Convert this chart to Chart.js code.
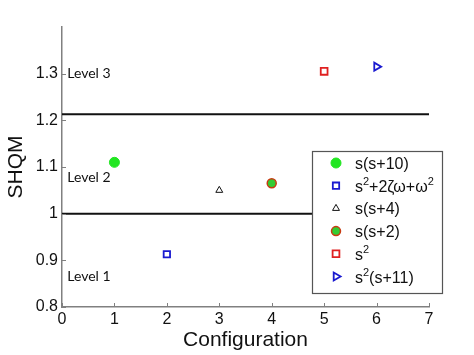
<!DOCTYPE html>
<html>
<head>
<meta charset="utf-8">
<script src="https://cdn.jsdelivr.net/npm/chart.js@4/dist/chart.umd.min.js"></script>
<style>
html,body{margin:0;padding:0;background:#fff;}
#wrap{width:474px;height:355px;position:relative;}
</style>
</head>
<body>
<div id="wrap"><canvas id="c" width="474" height="355"></canvas></div>
<script>
// ---- data ----
const configurations = [1, 2, 3, 4, 5, 6];
const shqm = [1.11, 0.913, 1.05, 1.065, 1.305, 1.315];
const seriesNames = ['s(s+10)', 's^2+2ζω+ω^2', 's(s+4)', 's(s+2)', 's^2', 's^2(s+11)'];
const levelThresholds = [1.0, 1.213];
const levelNames = ['Level 1', 'Level 2', 'Level 3'];
const levelLabelY = [0.866, 1.078, 1.3];
const levelLabelX = 0.1;
const xTicks = [0, 1, 2, 3, 4, 5, 6, 7];
const yTicks = [0.8, 0.9, 1.0, 1.1, 1.2, 1.3];

// ---- styles ----
const markerStyles = [
  {shape: 'circle', r: 5, rot: 0, fill: '#22e622', stroke: '#22e622', lw: 1},
  {shape: 'rect', r: 4.5, rot: 0, fill: 'rgba(0,0,0,0)', stroke: '#1a1ad0', lw: 1.8},
  {shape: 'triangle', r: 4, rot: 0, fill: 'rgba(0,0,0,0)', stroke: '#111', lw: 1},
  {shape: 'circle', r: 4.5, rot: 0, fill: '#33cc33', stroke: '#c83a10', lw: 1.5},
  {shape: 'rect', r: 4.8, rot: 0, fill: 'rgba(0,0,0,0)', stroke: '#e02020', lw: 1.8},
  {shape: 'triangle', r: 4.6, rot: 90, fill: 'rgba(0,0,0,0)', stroke: '#1a1ad0', lw: 1.8}
];

const datasets = [];
levelThresholds.forEach(v => {
  datasets.push({
    type: 'line',
    data: [{x: xTicks[0], y: v}, {x: xTicks[xTicks.length - 1], y: v}],
    borderColor: '#111', borderWidth: 2, pointRadius: 0, showLine: true, fill: false, order: 2
  });
});
configurations.forEach((c, i) => {
  const s = markerStyles[i];
  datasets.push({
    type: 'scatter',
    label: seriesNames[i],
    data: [{x: c, y: shqm[i]}],
    pointStyle: s.shape, pointRadius: s.r, pointRotation: s.rot,
    backgroundColor: s.fill, borderColor: s.stroke, pointBorderWidth: s.lw, borderWidth: s.lw,
    order: 1
  });
});

function drawMarker(ctx, s, x, y) {
  ctx.save();
  ctx.lineWidth = s.lw; ctx.strokeStyle = s.stroke; ctx.fillStyle = s.fill;
  ctx.beginPath();
  const r = s.r;
  if (s.shape === 'circle') {
    ctx.arc(x, y, r, 0, Math.PI * 2);
  } else if (s.shape === 'rect') {
    const h = r * Math.SQRT1_2;
    ctx.rect(x - h, y - h, 2 * h, 2 * h);
  } else if (s.shape === 'triangle') {
    let rad = s.rot * Math.PI / 180;
    for (let k = 0; k < 3; k++) {
      const px = x + Math.sin(rad) * r, py = y - Math.cos(rad) * r;
      if (k === 0) ctx.moveTo(px, py); else ctx.lineTo(px, py);
      rad += 2 * Math.PI / 3;
    }
    ctx.closePath();
  }
  ctx.fill(); ctx.stroke();
  ctx.restore();
}

function drawRich(ctx, text, x, y) {
  const parts = text.split(/\^(\d+)/);
  let cx = x;
  parts.forEach((p, i) => {
    if (!p) return;
    if (i % 2 === 1) {
      ctx.font = '11px "Liberation Sans", Arial, sans-serif';
      ctx.fillText(p, cx, y - 7);
    } else {
      ctx.font = '16px "Liberation Sans", Arial, sans-serif';
      ctx.fillText(p, cx, y);
    }
    cx += ctx.measureText(p).width;
  });
}

const overlay = {
  id: 'overlay',
  afterDatasetsDraw(chart) {
    const ctx = chart.ctx;
    const xs = chart.scales.x, ys = chart.scales.y;
    const area = chart.chartArea;
    // inward tick marks
    ctx.save();
    ctx.strokeStyle = '#808080'; ctx.lineWidth = 1;
    ctx.beginPath();
    yTicks.forEach(v => {
      const py = Math.round(ys.getPixelForValue(v)) + 0.5;
      ctx.moveTo(area.left, py); ctx.lineTo(area.left + 4, py);
    });
    xTicks.forEach(v => {
      const px = Math.round(xs.getPixelForValue(v)) + 0.5;
      ctx.moveTo(px, area.bottom); ctx.lineTo(px, area.bottom - 4);
    });
    ctx.stroke();
    // level labels
    ctx.fillStyle = '#111';
    ctx.font = '14px Lato, "Open Sans", sans-serif';
    ctx.textBaseline = 'middle';
    levelNames.forEach((n, i) => {
      ctx.fillText(n, xs.getPixelForValue(levelLabelX), ys.getPixelForValue(levelLabelY[i]));
    });
    // legend box
    const bx = 312, by = 151, bw = 130, bh = 142;
    ctx.fillStyle = '#fff';
    ctx.fillRect(bx, by, bw, bh);
    ctx.strokeStyle = '#555'; ctx.lineWidth = 1.2;
    ctx.strokeRect(bx + 0.5, by + 0.5, bw, bh);
    ctx.textBaseline = 'alphabetic';
    seriesNames.forEach((n, i) => {
      const ry = 163 + i * 22.7;
      drawMarker(ctx, markerStyles[i], 336, ry);
      ctx.fillStyle = '#111';
      drawRich(ctx, n, 355, ry + 6);
    });
    ctx.restore();
  }
};

new Chart(document.getElementById('c'), {
  type: 'scatter',
  data: {datasets},
  options: {
    responsive: false,
    animation: false,
    layout: {padding: {top: 27, right: 45, left: 0, bottom: 0}},
    plugins: {legend: {display: false}, tooltip: {enabled: false}},
    scales: {
      x: {
        type: 'linear', min: 0, max: 7,
        afterBuildTicks: s => { s.ticks = xTicks.map(v => ({value: v})); },
        afterFit: s => { s.height = 48; },
        grid: {display: false, drawTicks: false},
        border: {display: true, color: '#808080', width: 1.5},
        ticks: {color: '#111', padding: 3, font: {size: 16, family: '"Liberation Sans", Arial, sans-serif'}, callback: v => String(v)},
        title: {display: true, text: 'Configuration', color: '#111', padding: {top: 0, bottom: 2}, font: {size: 21, family: '"Liberation Sans", Arial, sans-serif'}}
      },
      y: {
        type: 'linear', min: 0.8, max: 1.4,
        afterBuildTicks: s => { s.ticks = yTicks.map(v => ({value: v})); },
        afterFit: s => { s.width = 62; },
        grid: {display: false, drawTicks: false},
        border: {display: true, color: '#808080', width: 1.5},
        ticks: {color: '#111', padding: 4, font: {size: 16, family: '"Liberation Sans", Arial, sans-serif'}, callback: v => String(+Number(v).toFixed(1))},
        title: {display: true, text: 'SHQM', color: '#111', padding: {top: 4, bottom: 0}, font: {size: 21, family: '"Liberation Sans", Arial, sans-serif'}}
      }
    }
  },
  plugins: [overlay]
});
</script>
</body>
</html>
